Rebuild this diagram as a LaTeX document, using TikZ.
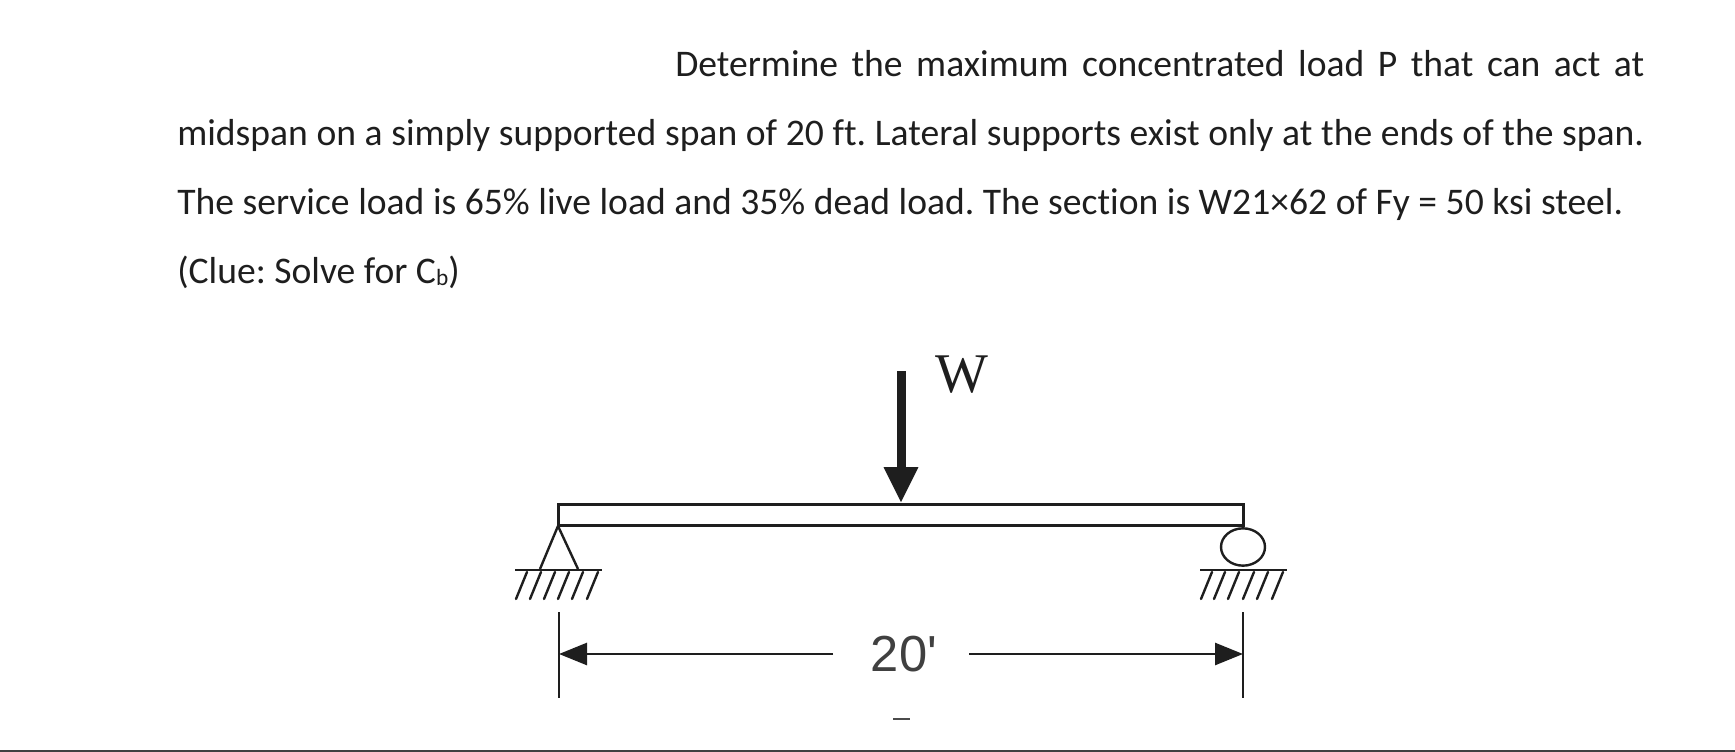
\documentclass[tikz,border=0pt]{standalone}
\usepackage{fontspec}
\setmainfont[Ligatures=NoCommon]{Carlito}
\newfontfamily\dimfont{Liberation Sans}
\newfontfamily\loadfont{Liberation Serif}
\usetikzlibrary{arrows.meta,shapes.geometric}
\definecolor{ink}{HTML}{1E1E1E}
\tikzset{
  x=0.75pt,y=-0.75pt,
  txt/.style={anchor=base west,inner sep=0pt,text=ink,font=\fontsize{28.2pt}{32pt}\selectfont\frenchspacing},
  member/.style={draw=ink,line width=2.1pt,fill=white,inner sep=0pt,minimum width=513.75pt,minimum height=15.75pt},
  thin line/.style={draw=ink,line width=1.9pt},
  hatch/.style={draw=ink,line width=1.8pt,line cap=round},
  pin/.style={draw=ink,line width=1.8pt},
  loadarrow/.style={draw=ink,line width=6.75pt,-{Triangle[length=27pt,width=24pt]}},
  dimarrow/.style={draw=ink,line width=2pt,-{Triangle[length=21pt,width=16.5pt]}}
}
\begin{document}
\begin{tikzpicture}
\useasboundingbox (0,0) rectangle (1735,752);
% text
\node[txt] (l1) at (675,77) {\makebox[726.75pt][s]{Determine the maximum concentrated load P that can act at}};
\node[txt] (l2) at (177,146) {\makebox[1100.25pt][s]{midspan on a simply supported span of 20 ft. Lateral supports exist only at the ends of the span.}};
\node[txt] (l3) at (177,215) {\makebox[1084.5pt][s]{The service load is 65\% live load and 35\% dead load. The section is W21×62 of Fy = 50 ksi steel.}};
\node[txt] (l4) at (177,284) {(Clue: Solve for C\raisebox{-1.5pt}{\fontsize{17.5pt}{19pt}\selectfont b})};
% beam and load
\node[member] (beam) at (901,515) {};
\coordinate (loadtop) at (901,371);
\draw[loadarrow] (loadtop) -- (beam.north);
\node[anchor=base,inner sep=0pt,text=ink,font=\loadfont\fontsize{42pt}{46pt}\selectfont] (w) at (962,392) {W};
% left support
\coordinate (apex) at (558,526);
\coordinate (bl) at (540,569);
\coordinate (br) at (578,569);
\draw[pin] (apex) -- (bl) (apex) -- (br);
\coordinate (g1a) at (515,570);
\coordinate (g1b) at (602,570);
\draw[thin line] (g1a) -- (g1b);
\foreach \x in {516,530,544,558,572,587}
  \draw[hatch] (\x,599) -- (\x+11,572);
% right support
\node[draw=ink,line width=1.8pt,fill=white,ellipse,inner sep=0pt,minimum width=33pt,minimum height=28pt] (roller) at (1243,547) {};
\coordinate (g2a) at (1200,570);
\coordinate (g2b) at (1287,570);
\draw[thin line] (g2a) -- (g2b);
\foreach \x in {1201,1214,1228,1243,1257,1272}
  \draw[hatch] (\x,599) -- (\x+11,572);
% dimension
\coordinate (eLt) at (559,612);
\coordinate (eLb) at (559,698);
\coordinate (eRt) at (1243,612);
\coordinate (eRb) at (1243,698);
\draw[thin line] (eLt) -- (eLb);
\draw[thin line] (eRt) -- (eRb);
\node[inner sep=0pt,anchor=base,text=ink!85,font=\dimfont\fontsize{38pt}{42pt}\selectfont] (dim) at (904,671) {20'};
\coordinate (dLs) at (833,654);
\coordinate (dLe) at (559,654);
\coordinate (dRs) at (969,654);
\coordinate (dRe) at (1243,654);
\draw[dimarrow] (dLs) -- (dLe);
\draw[dimarrow] (dRs) -- (dRe);
% stray marks
\coordinate (ma) at (893,719);
\coordinate (mb) at (910,719);
\draw[draw=ink!80,line width=1.8pt] (ma) -- (mb);
\coordinate (ba) at (0,751);
\coordinate (bb) at (1735,751);
\draw[draw=ink!85,line width=1.6pt] (ba) -- (bb);
\end{tikzpicture}
\end{document}
